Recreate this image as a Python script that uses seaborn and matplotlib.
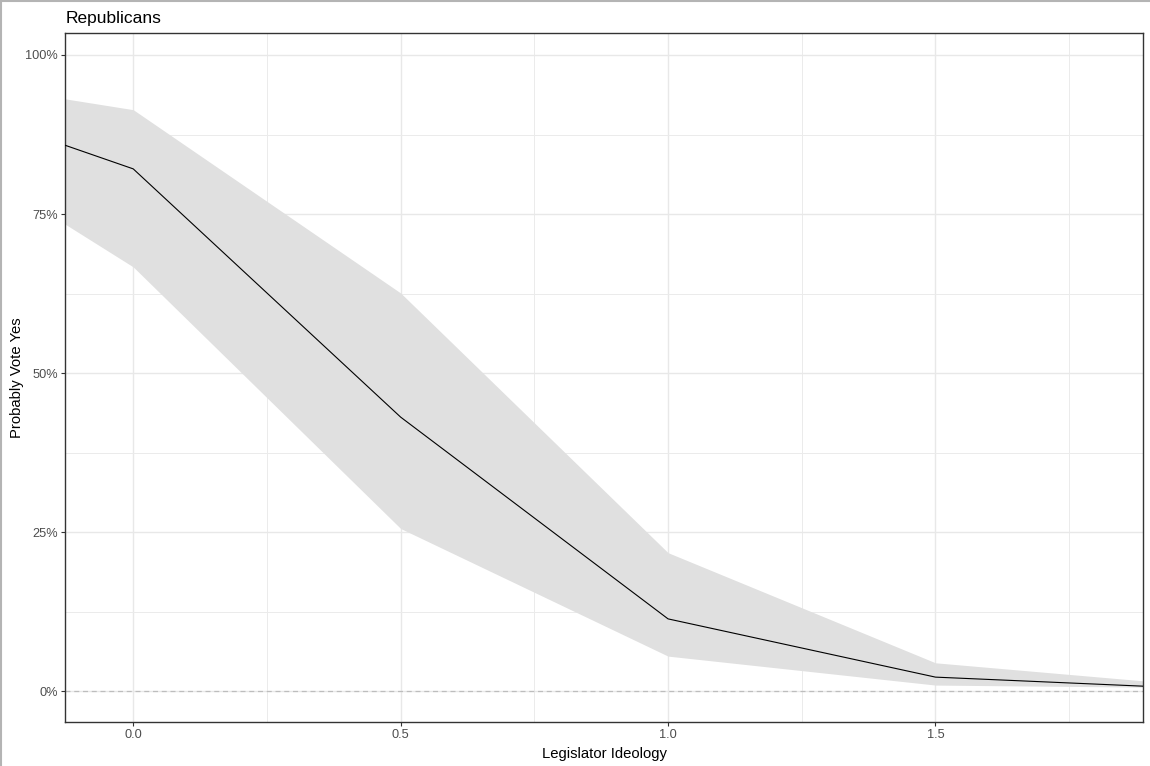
import numpy as np
import pandas as pd
import matplotlib
matplotlib.use("Agg")
import matplotlib.pyplot as plt
from matplotlib.lines import Line2D
from matplotlib.ticker import FuncFormatter, MultipleLocator
import seaborn as sns

# values
ideology = [-0.127, 0.0, 0.5, 1.0, 1.5, 1.888]
prob_yes = [0.858, 0.821, 0.431, 0.114, 0.0225, 0.0083]
ci_low = [0.734, 0.667, 0.256, 0.0555, 0.010, 0.0068]
ci_high = [0.931, 0.914, 0.626, 0.218, 0.045, 0.0167]

df = pd.DataFrame({"ideology": ideology, "prob": prob_yes,
                   "lo": ci_low, "hi": ci_high})

sns.set_style("white")
plt.rcParams["font.family"] = ["Liberation Sans", "DejaVu Sans"]

fig = plt.figure(figsize=(11.5, 7.66), dpi=100)
ax = fig.add_axes([65.3 / 1150, (766 - 722) / 766,
                   (1143 - 65.3) / 1150, (722 - 33.3) / 766])

# grid (ggplot theme_bw look)
ax.xaxis.set_major_locator(MultipleLocator(0.5))
ax.xaxis.set_minor_locator(MultipleLocator(0.25))
ax.yaxis.set_major_locator(MultipleLocator(0.25))
ax.yaxis.set_minor_locator(MultipleLocator(0.125))
ax.grid(which="major", color="#e8e8e8", lw=1.0)
ax.grid(which="minor", color="#ebebeb", lw=0.7)
ax.set_axisbelow(True)

ax.fill_between(df["ideology"], df["lo"], df["hi"], color="#e0e0e0",
                lw=0, zorder=2)
ax.axhline(0, color="#bdbdbd", lw=0.9, ls=(0, (4, 3)), zorder=2.5)
sns.lineplot(data=df, x="ideology", y="prob", color="black", lw=0.8,
             ax=ax, zorder=3)

ax.set_xlim(-0.127, 1.888)
ax.set_ylim(-0.048, 1.034)
ax.yaxis.set_major_formatter(FuncFormatter(lambda v, p: f"{v * 100:.0f}%"))
ax.xaxis.set_major_formatter(FuncFormatter(lambda v, p: f"{v:.1f}"))

for s in ax.spines.values():
    s.set_color("#333333")
    s.set_linewidth(1.0)

ax.tick_params(which="major", bottom=True, left=True, length=2.7, width=0.8,
               color="#333333", labelsize=9.2, labelcolor="#4d4d4d", pad=2.4)
ax.tick_params(which="minor", bottom=False, left=False, length=0)
ax.tick_params(axis="x", pad=2.0)

ax.set_xlabel("Legislator Ideology", fontsize=10.7, color="black", labelpad=4.5)
ax.set_ylabel("Probably Vote Yes", fontsize=10.7, color="black", labelpad=0.8)
ax.set_title("Republicans", loc="left", fontsize=12.5, color="black", pad=7.5)

# light border of the screenshot
fig.add_artist(Line2D([0.0008, 0.0008], [0, 1], transform=fig.transFigure,
                      color="#b4b4b4", lw=1.5))
fig.add_artist(Line2D([0, 1], [0.9993, 0.9993], transform=fig.transFigure,
                      color="#b4b4b4", lw=1.5))

fig.savefig("out.png", dpi=100)
